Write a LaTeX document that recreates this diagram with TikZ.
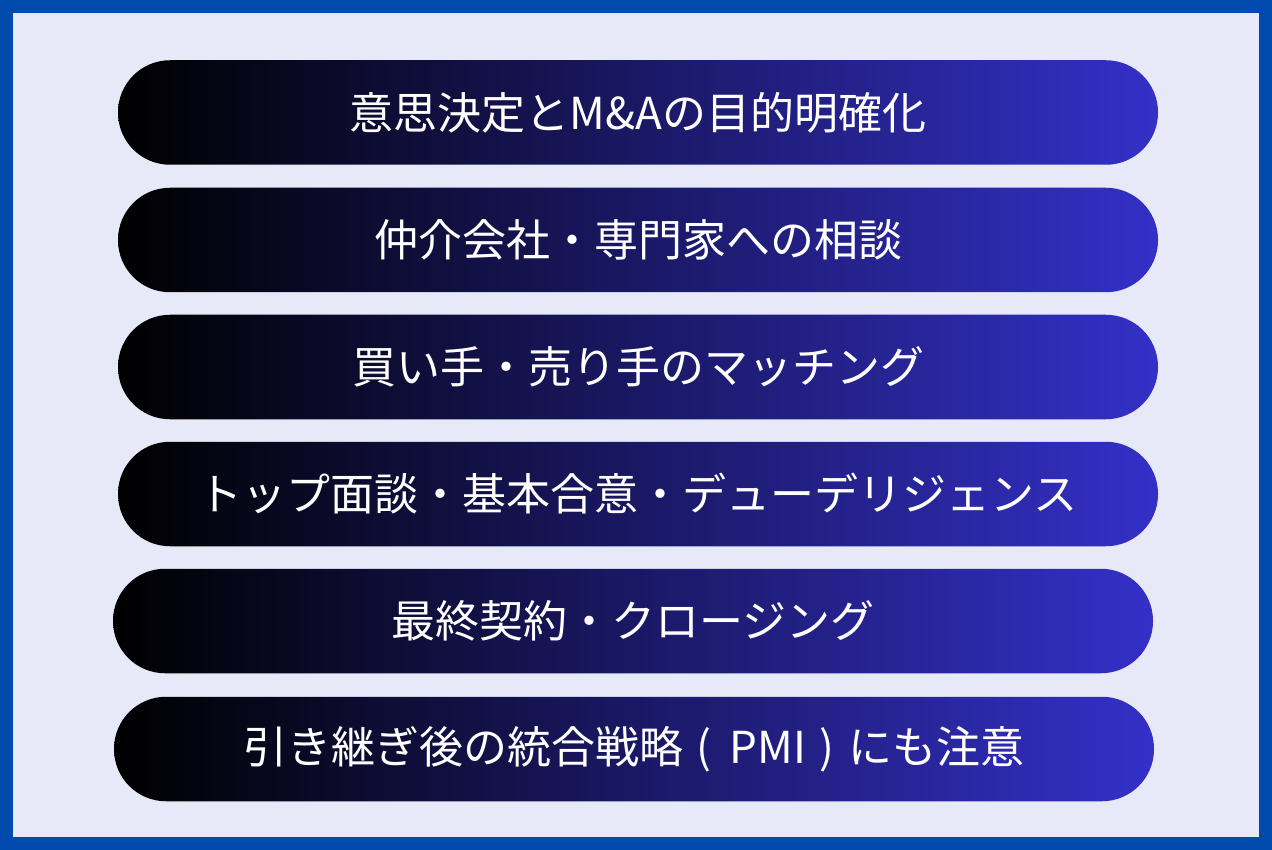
\documentclass[tikz,border=0pt]{standalone}
\usepackage{fontspec}
\newfontfamily\jpfont{Noto Sans CJK JP}
\definecolor{borderblue}{HTML}{004AAD}
\definecolor{bgcol}{HTML}{E8E9F8}
\definecolor{pillend}{HTML}{3430C8}
\tikzset{
  pill/.style={rounded corners=52pt, minimum width=1040pt, minimum height=104.5pt,
    inner sep=0pt, left color=black, right color=pillend, draw=none,
    text=white, font=\jpfont\fontsize{44}{52}\selectfont}
}
\begin{document}
\begin{tikzpicture}[x=1pt,y=-1pt]
\fill[borderblue] (0,0) rectangle (1272,850);
\fill[bgcol] (13,13) rectangle (1259,837);
\useasboundingbox (0,0) rectangle (1272,850);
\node[pill] (p1) at (638,112.5) {意思決定とM\&Aの目的明確化};
\node[pill] (p2) at (638,240) {仲介会社・専門家への相談};
\node[pill] (p3) at (638,367) {買い手・売り手のマッチング};
\node[pill] (p4) at (638,494) {トップ面談・基本合意・デューデリジェンス};
\node[pill] (p5) at (633,621) {最終契約・クロージング};
\node[pill] (p6) at (634,749) {引き継ぎ後の統合戦略\hspace{13pt}(\hspace{18pt}PMI\hspace{13pt})\hspace{14pt}にも注意};
\end{tikzpicture}
\end{document}
